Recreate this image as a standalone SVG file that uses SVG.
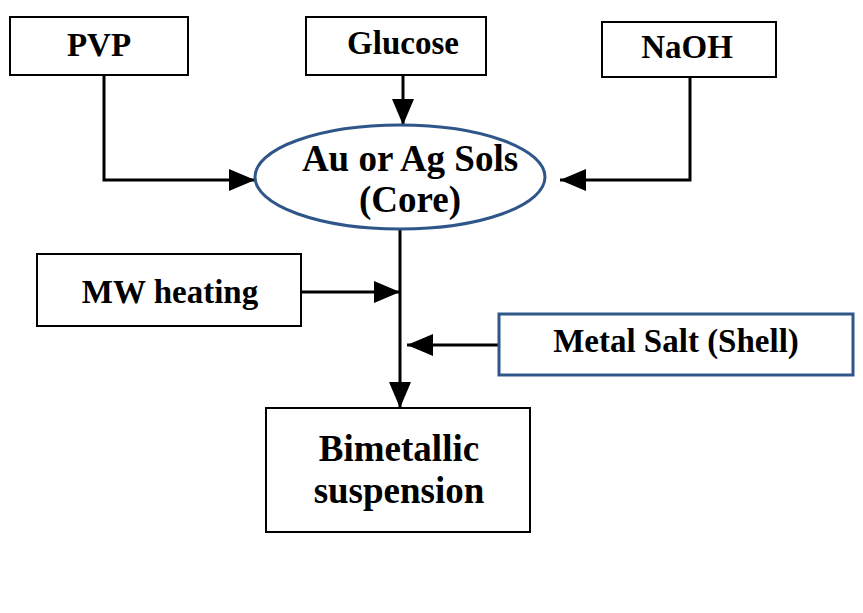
<svg xmlns="http://www.w3.org/2000/svg" width="863" height="613" viewBox="0 0 863 613">
<style>
.b{fill:#fff;stroke:#000;stroke-width:2}
.t{font-family:"Liberation Serif",serif;font-weight:bold;font-size:33px;text-anchor:middle;fill:#000}
.l{font-size:37px}
.c{fill:none;stroke:#000;stroke-width:3}
</style>
<defs><marker id="m" viewBox="0 0 10 10" refX="10" refY="5" markerWidth="26" markerHeight="22" markerUnits="userSpaceOnUse" orient="auto" preserveAspectRatio="none"><path d="M0,0L10,5L0,10z" fill="#000"/></marker></defs>
<rect width="863" height="613" fill="#fff"/>
<g id="connectors">
<path class="c" d="M104,75V180H255" marker-end="url(#m)"/>
<path class="c" d="M403,75V125" marker-end="url(#m)"/>
<path class="c" d="M690,77V180H560" marker-end="url(#m)"/>
<path class="c" d="M400,229V408" marker-end="url(#m)"/>
<path class="c" d="M301,292H400" marker-end="url(#m)"/>
<path class="c" d="M499,345H407" marker-end="url(#m)"/>
</g>
<g id="pvp"><rect class="b" x="10" y="17" width="178" height="58"/><text class="t" x="99" y="56">PVP</text></g>
<g id="glucose"><rect class="b" x="306" y="17" width="180" height="58"/><text class="t" x="403" y="54">Glucose</text></g>
<g id="naoh"><rect class="b" x="602" y="22" width="174" height="55"/><text class="t" x="687" y="58">NaOH</text></g>
<g id="sols"><ellipse cx="400" cy="177" rx="145" ry="52" fill="#fff" stroke="#2F5689" stroke-width="3"/><text class="t l" x="410" y="171">Au or Ag Sols</text><text class="t l" x="410" y="212">(Core)</text></g>
<g id="mw"><rect class="b" x="37" y="254" width="264" height="72"/><text class="t" x="170" y="303">MW heating</text></g>
<g id="salt"><rect x="499" y="314" width="354" height="61" fill="#fff" stroke="#2F5689" stroke-width="3"/><text class="t" x="676" y="352">Metal Salt (Shell)</text></g>
<g id="bim"><rect class="b" x="266" y="408" width="264" height="124"/><text class="t l" x="399" y="461">Bimetallic</text><text class="t l" x="399" y="503">suspension</text></g>
</svg>
